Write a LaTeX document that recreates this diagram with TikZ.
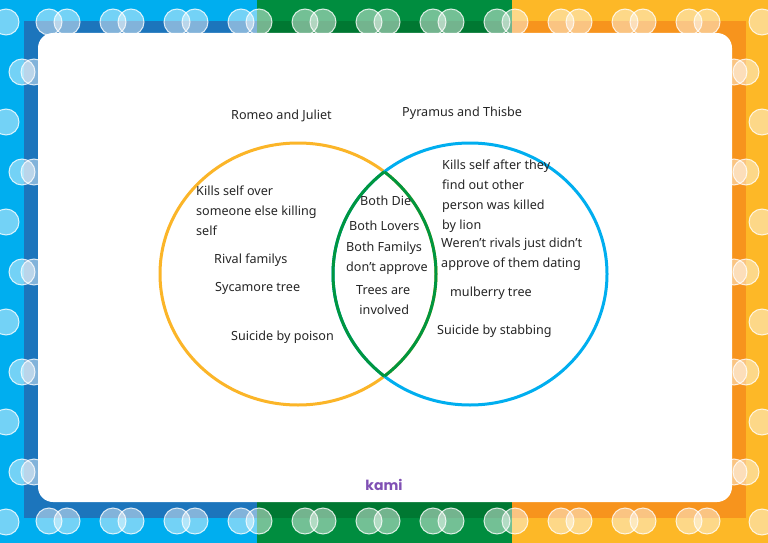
\documentclass[tikz,border=0pt]{standalone}
\usepackage{fontspec}
\setmainfont{Noto Sans}
\newfontfamily\kamifont{Poppins}
\begin{document}
\begin{tikzpicture}[x=1pt,y=-1pt,
  txt/.style={anchor=west,font=\fontsize{12.6}{20}\selectfont,text=black!85,align=left,inner sep=0pt},
  dot/.style={fill=white,fill opacity=0.45,draw=white,draw opacity=0.8,line width=1pt}]
\definecolor{bB}{HTML}{00AEEF}\definecolor{bD}{HTML}{1C75BC}
\definecolor{gD}{HTML}{008D3F}
\definecolor{oB}{HTML}{FDB827}\definecolor{oD}{HTML}{F7941D}
\definecolor{venO}{HTML}{FBB528}\definecolor{venB}{HTML}{00AEEF}\definecolor{venG}{HTML}{00963F}
\useasboundingbox (0,0) rectangle (768,543);
\fill[bB] (0,0) rectangle (257,543);
\fill[gD] (257,0) rectangle (512,543);
\fill[oB] (512,0) rectangle (768,543);
\fill[bD] (24,21) rectangle (257,518);
\fill[venG!80!black] (257,21) rectangle (512,518);
\fill[oD] (512,21) rectangle (746,518);
\foreach \x in {58,122,186,250,314,378,442,506,570,634,698}{
  \draw[dot] (\x-9,22) circle (13); \draw[dot] (\x+9,22) circle (13);
  \draw[dot] (\x-9,521) circle (13); \draw[dot] (\x+9,521) circle (13);}
\foreach \y in {22,122,222,322,422,522}{
  \draw[dot] (6,\y) circle (13); \draw[dot] (762,\y) circle (13);}
\foreach \y in {72,172,272,372,472}{
  \draw[dot] (22,\y) circle (13); \draw[dot] (34,\y) circle (13);
  \draw[dot] (734,\y) circle (13); \draw[dot] (746,\y) circle (13);}
\fill[white,rounded corners=15] (38,33) rectangle (732,502);
\coordinate (L) at (298,274); \coordinate (R) at (470,274);
\def\Lc{(L) ellipse [x radius=138,y radius=131]}
\def\Rc{(R) ellipse [x radius=137,y radius=131]}
\draw[venO,line width=3pt] \Lc;
\draw[venB,line width=3pt] \Rc;
\begin{scope}\clip \Lc; \draw[venG,line width=3pt] \Rc;\end{scope}
\begin{scope}\clip \Rc; \draw[venG,line width=3pt] \Lc;\end{scope}
\node[txt] (t1) at (231,116) {Romeo and Juliet};
\node[txt] (t2) at (402,113) {Pyramus and Thisbe};
\node[txt] (a1) at (196,211) {Kills self over\\someone else killing\\self};
\node[txt] (a2) at (214,260) {Rival familys};
\node[txt] (a3) at (215,288) {Sycamore tree};
\node[txt] (a4) at (231,337) {Suicide by poison};
\node[txt] (c1) at (360,201) {Both Die};
\node[txt] (c2) at (349,226) {Both Lovers};
\node[txt] (c3) at (346,258) {Both Familys\\don't approve};
\node[txt] (c4) at (356,300) {Trees are\\\ involved};
\node[txt] (b1) at (442,196) {Kills self after they\\find out other\\person was killed\\by lion};
\node[txt] (b2) at (441,254) {Weren't rivals just didn't\\approve of them dating};
\node[txt] (b3) at (450,293) {mulberry tree};
\node[txt] (b4) at (437,331) {Suicide by stabbing};
\node[font=\kamifont\bfseries\fontsize{14}{14}\selectfont,text={rgb,255:red,128;green,80;blue,180}] (k) at (384,485) {kami};
\end{tikzpicture}
\end{document}
